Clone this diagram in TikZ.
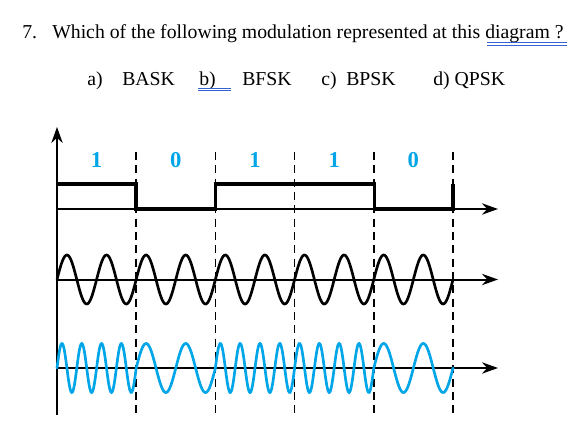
\documentclass[tikz,border=0pt]{standalone}
\usepackage{fontspec}
\setmainfont{Liberation Serif}
\usepackage{tikz}
\usetikzlibrary{arrows.meta}
\definecolor{bitblue}{RGB}{0,166,231}
\definecolor{checkblue}{RGB}{50,100,210}

\begin{document}
\begin{tikzpicture}[x=0.75pt, y=-0.75pt, >={Stealth[length=12pt,width=8.5pt]},
    txt/.style={anchor=base west, inner sep=0pt, font=\fontsize{14.8}{18}\selectfont},
    bit/.style={text=bitblue, font=\fontsize{17}{17}\selectfont\bfseries},
    axis/.style={line width=1.5pt},
    boundary/.style={dash pattern=on 6pt off 4pt, line width=1.1pt},
    squiggle/.style={checkblue, line width=0.7pt}]
  \useasboundingbox (0,0) rectangle (585,442);

  % question and choices
  \node[txt] (qnum)  at (22,39) {7.};
  \node[txt] (qtext) at (52,39) {Which of the following modulation represented at this diagram ?};
  \node[txt] (opta)  at (87,86)  {a)};
  \node[txt] (bask)  at (122,86) {BASK};
  \node[txt] (optb)  at (199,86) {b)};
  \node[txt] (bfsk)  at (242,86) {BFSK};
  \node[txt] (optc)  at (321,86) {c)};
  \node[txt] (bpsk)  at (346,86) {BPSK};
  \node[txt] (optd)  at (433,86) {d) QPSK};
  \draw[squiggle] (487,42.5) -- (567,42.5) (487,45) -- (567,45);
  \draw[squiggle] (198,88) -- (231,88) (198,90.5) -- (231,90.5);

  % axes
  \coordinate (o)   at (57,415);
  \coordinate (top) at (57,127);
  \coordinate (d0) at (57,209);   \coordinate (d1) at (498,209);
  \coordinate (c0) at (57,279.5); \coordinate (c1) at (498,279.5);
  \coordinate (f0) at (57,368);   \coordinate (f1) at (498,368);
  \draw[axis,->] (o) -- (top);
  \draw[axis,->] (d0) -- (d1);
  \draw[axis,->] (c0) -- (c1);
  \draw[axis,->] (f0) -- (f1);

  % bit boundaries and bits
  \foreach \i in {1,...,4}
    \draw[boundary] ({57+79.2*\i},152) -- ({57+79.2*\i},415);
  \draw[boundary, line width=1.9pt] (453,152) -- (453,415);
  \foreach \b/\l in {0/1,1/0,2/1,3/1,4/0}
    \node[bit] (bit\b) at ({96.6+79.2*\b},160) {\l};

  % data signal 1 0 1 1 0
  \draw[line width=2.6pt] (57,184) -- (136.2,184) -- (136.2,209) -- (215.4,209)
    -- (215.4,184) -- (374.4,184) -- (374.4,209) -- (453,209) -- (453,184);

  % carrier
  \draw[line width=2pt, samples=400, domain=57:453]
    plot (\x, {279.5-24.5*sin(9.0909*(\x-57))});

  % BFSK signal
  \foreach \b/\n in {0/4,1/2,2/4,3/4,4/2}{
    \pgfmathsetmacro\xa{57+79.2*\b}
    \pgfmathsetmacro\xb{\xa+79.2}
    \draw[bitblue, line width=2pt, line cap=round, samples=120, domain=\xa:\xb]
      plot (\x, {368-24.5*sin(4.54545*\n*(\x-\xa))});
  }
\end{tikzpicture}
\end{document}
